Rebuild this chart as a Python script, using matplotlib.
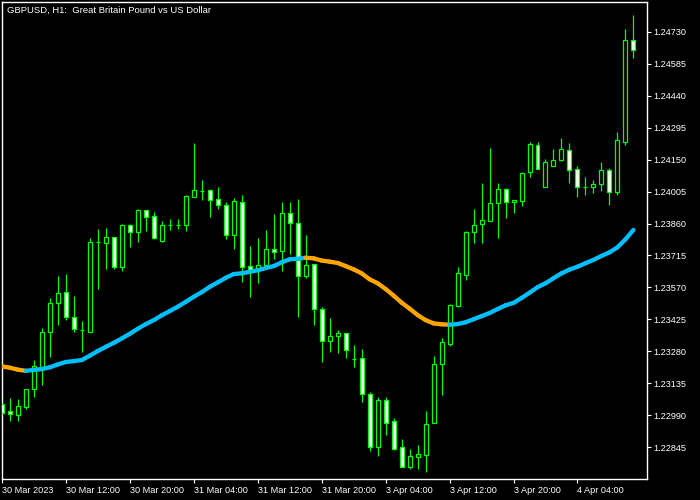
import numpy as np
import matplotlib
matplotlib.use('Agg')
import matplotlib.pyplot as plt
from matplotlib.collections import LineCollection

# GBPUSD H1 candles, 30 Mar 2023 04:00 onwards
opens = [1.23041, 1.23010, 1.22993, 1.23029, 1.23108, 1.23208, 1.23367, 1.23498, 1.23548, 1.23435,
         1.23378, 1.23369, 1.23775, 1.23773, 1.23798, 1.23664, 1.23852, 1.23820, 1.23920, 1.23893,
         1.23779, 1.23853, 1.23855, 1.23855, 1.23982, 1.24008, 1.24011, 1.23970, 1.23943, 1.23809,
         1.23958, 1.23666, 1.23649, 1.23672, 1.23743, 1.23737, 1.23906, 1.23861, 1.23621, 1.23675,
         1.23471, 1.23326, 1.23348, 1.23362, 1.23246, 1.23249, 1.23085, 1.22848, 1.23058, 1.22964,
         1.22845, 1.22757, 1.22802, 1.22811, 1.22957, 1.23221, 1.23315, 1.23487, 1.23628, 1.23823,
         1.23856, 1.23873, 1.23952, 1.24015, 1.23956, 1.23964, 1.24092, 1.24215, 1.24027, 1.24122,
         1.24149, 1.24192, 1.24106, 1.24024, 1.24024, 1.24038, 1.24101, 1.24004, 1.24231, 1.24691]

highs = [1.23050, 1.23069, 1.23063, 1.23108, 1.23241, 1.23386, 1.23522, 1.23622, 1.23631, 1.23531,
         1.23418, 1.23793, 1.23835, 1.23840, 1.23800, 1.23856, 1.23856, 1.23926, 1.23922, 1.23911,
         1.23871, 1.23879, 1.23879, 1.23988, 1.24224, 1.24057, 1.24015, 1.24026, 1.23958, 1.23976,
         1.23989, 1.23758, 1.23794, 1.23831, 1.23903, 1.23958, 1.23958, 1.23971, 1.23807, 1.23677,
         1.23480, 1.23431, 1.23377, 1.23364, 1.23309, 1.23291, 1.23095, 1.23073, 1.23073, 1.22978,
         1.22881, 1.22836, 1.22854, 1.23008, 1.23259, 1.23339, 1.23495, 1.23661, 1.23826, 1.23925,
         1.24044, 1.24203, 1.24044, 1.24020, 1.23968, 1.24094, 1.24230, 1.24230, 1.24153, 1.24198,
         1.24248, 1.24225, 1.24121, 1.24071, 1.24057, 1.24139, 1.24112, 1.24275, 1.24742, 1.24806]

lows = [1.22996, 1.22966, 1.22966, 1.23020, 1.23075, 1.23128, 1.23256, 1.23401, 1.23422, 1.23369,
        1.23279, 1.23366, 1.23564, 1.23655, 1.23652, 1.23646, 1.23755, 1.23776, 1.23827, 1.23791,
        1.23777, 1.23832, 1.23837, 1.23827, 1.23980, 1.23968, 1.23891, 1.23927, 1.23791, 1.23746,
        1.23596, 1.23528, 1.23592, 1.23661, 1.23700, 1.23646, 1.23722, 1.23437, 1.23613, 1.23401,
        1.23233, 1.23279, 1.23274, 1.23251, 1.23211, 1.23049, 1.22830, 1.22806, 1.22901, 1.22833,
        1.22755, 1.22748, 1.22748, 1.22733, 1.22955, 1.23082, 1.23306, 1.23483, 1.23605, 1.23773,
        1.23773, 1.23871, 1.23796, 1.23886, 1.23909, 1.23941, 1.24072, 1.24106, 1.24025, 1.24120,
        1.24144, 1.24045, 1.23982, 1.23991, 1.24000, 1.24009, 1.23945, 1.23991, 1.24218, 1.24612]

closes = [1.23002, 1.22995, 1.23032, 1.23108, 1.23214, 1.23368, 1.23498, 1.23544, 1.23435, 1.23380,
          1.23378, 1.23775, 1.23775, 1.23798, 1.23664, 1.23852, 1.23820, 1.23920, 1.23888, 1.23793,
          1.23852, 1.23854, 1.23855, 1.23983, 1.24011, 1.24008, 1.23968, 1.23943, 1.23807, 1.23962,
          1.23661, 1.23649, 1.23671, 1.23743, 1.23731, 1.23906, 1.23861, 1.23621, 1.23671, 1.23471,
          1.23326, 1.23350, 1.23362, 1.23285, 1.23246, 1.23085, 1.22848, 1.23058, 1.22957, 1.22836,
          1.22757, 1.22804, 1.22815, 1.22949, 1.23221, 1.23321, 1.23489, 1.23634, 1.23820, 1.23852,
          1.23875, 1.23952, 1.24015, 1.23956, 1.23967, 1.24088, 1.24219, 1.24106, 1.24138, 1.24147,
          1.24197, 1.24101, 1.24024, 1.24025, 1.24038, 1.24101, 1.24002, 1.24237, 1.24691, 1.24646]

# moving average values
ma = [1.23212, 1.23206, 1.23197, 1.23192, 1.23196, 1.23200, 1.23208, 1.23221, 1.23232, 1.23236,
      1.23241, 1.23261, 1.23282, 1.23301, 1.23319, 1.23339, 1.23360, 1.23383, 1.23404, 1.23422,
      1.23444, 1.23463, 1.23483, 1.23505, 1.23528, 1.23549, 1.23573, 1.23593, 1.23614, 1.23631,
      1.23634, 1.23641, 1.23648, 1.23658, 1.23667, 1.23684, 1.23698, 1.23700, 1.23705, 1.23702,
      1.23692, 1.23687, 1.23681, 1.23667, 1.23652, 1.23634, 1.23607, 1.23589, 1.23563, 1.23533,
      1.23501, 1.23474, 1.23445, 1.23422, 1.23407, 1.23403, 1.23401, 1.23404, 1.23412, 1.23426,
      1.23440, 1.23454, 1.23472, 1.23489, 1.23500, 1.23522, 1.23546, 1.23571, 1.23589, 1.23612,
      1.23634, 1.23651, 1.23664, 1.23680, 1.23695, 1.23713, 1.23729, 1.23752, 1.23788, 1.23831]

time_ticks = [0, 8, 16, 24, 32, 40, 48, 56, 64, 72]
time_labels = ['30 Mar 2023', '30 Mar 12:00', '30 Mar 20:00', '31 Mar 04:00', '31 Mar 12:00',
               '31 Mar 20:00', '3 Apr 04:00', '3 Apr 12:00', '3 Apr 20:00', '4 Apr 04:00']
price_ticks = [1.22845, 1.22990, 1.23135, 1.23280, 1.23425, 1.23570, 1.23715,
               1.23860, 1.24005, 1.24150, 1.24295, 1.24440, 1.24585, 1.24730]
title = 'GBPUSD, H1:  Great Britain Pound vs US Dollar'

plt.rcParams['font.family'] = ['Liberation Sans', 'DejaVu Sans']
fsize = 6.6

o = np.array(opens)
h = np.array(highs)
l = np.array(lows)
c = np.array(closes)
m = np.array(ma)
x = np.arange(len(o))

fig = plt.figure(figsize=(7, 5), dpi=100, facecolor='black')
ax = fig.add_axes([2 / 700, 21 / 500, 645 / 700, 477 / 500], facecolor='black')

green = '#00ff00'
ax.vlines(x, l, h, color=green, linewidth=0.9, zorder=2)
faces = np.where(c >= o, 'black', 'white')
ax.bar(x, np.abs(c - o), bottom=np.minimum(o, c), width=0.5,
       color=faces, edgecolor=green, linewidth=0.9, zorder=3)

# MA: blue when rising, orange when falling
pts = np.column_stack([x, m])
segs = np.stack([pts[:-1], pts[1:]], axis=1)
seg_cols = np.where(np.diff(m) >= 0, '#00bfff', '#ffa500')
lc = LineCollection(segs, colors=seg_cols, linewidths=3.1, capstyle='round', zorder=4)
ax.add_collection(lc)

ax.set_xlim(0, 80.7)
ax.set_ylim(1.227013, 1.248647)

ax.yaxis.tick_right()
ax.set_yticks(price_ticks)
ax.set_yticklabels([f'{p:.5f}' for p in price_ticks])
ax.set_xticks(time_ticks)
ax.set_xticklabels(time_labels, ha='left')
ax.tick_params(axis='both', colors='white', labelcolor='white', labelsize=fsize,
               length=3.2, width=0.8, direction='out')
ax.tick_params(axis='y', pad=1.5)
ax.tick_params(axis='x', pad=2)
for s in ax.spines.values():
    s.set_color('white')
    s.set_linewidth(1)

ax.text(0.008, 0.993, title, transform=ax.transAxes, color='white',
        fontsize=fsize + 0.2, va='top', ha='left')

fig.savefig('out.png', dpi=100, facecolor='black')
